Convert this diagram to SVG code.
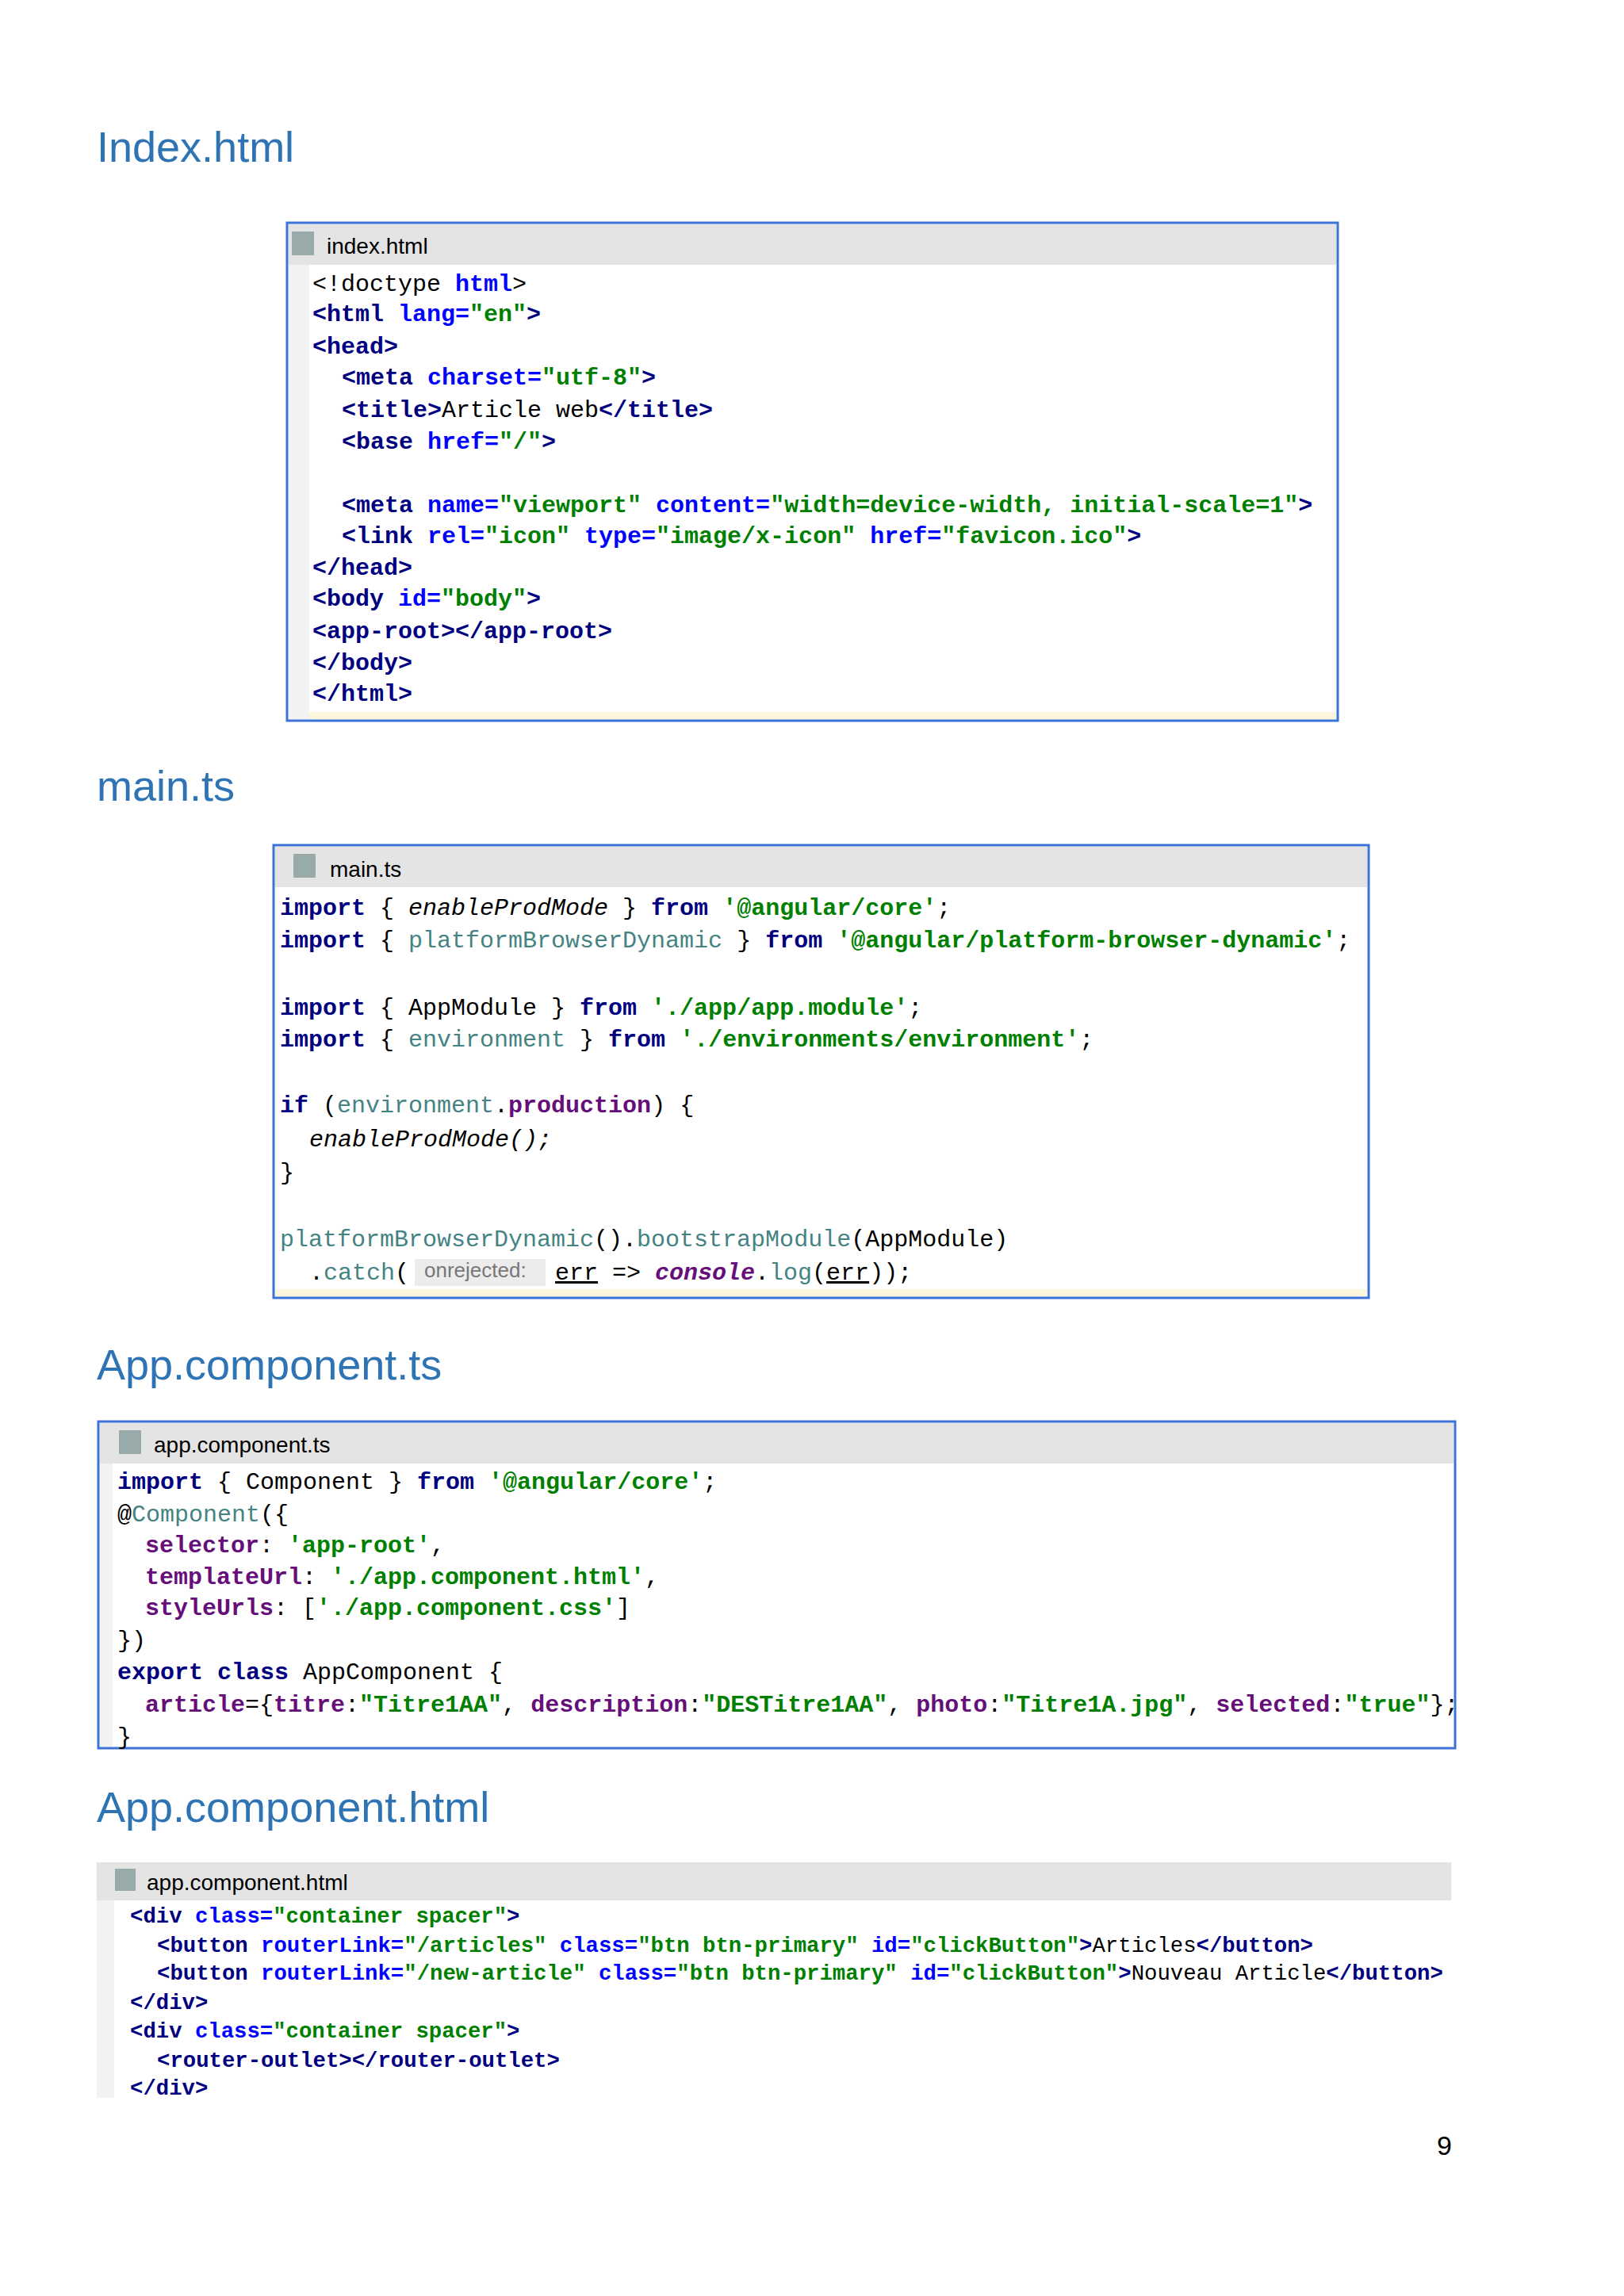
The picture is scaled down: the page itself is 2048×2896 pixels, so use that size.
<svg xmlns="http://www.w3.org/2000/svg" width="2048" height="2896" viewBox="0 0 2048 2896">
<style>
.h{font-family:"Liberation Sans",sans-serif;font-size:54px;fill:#2e74b5}
.c{font-family:"Liberation Mono",monospace;font-size:30px;fill:#000;white-space:pre}
.c2{font-family:"Liberation Mono",monospace;font-size:27.3px;fill:#000;white-space:pre}
.hd{font-family:"Liberation Sans",sans-serif;font-size:28px;fill:#000}
.t{fill:#000080;font-weight:bold}
.a{fill:#0000ff;font-weight:bold}
.s{fill:#008000;font-weight:bold}
.k{fill:#000080;font-weight:bold}
.g{fill:#458383}
.p{fill:#660e7a;font-weight:bold}
.i{font-style:italic}
.box{fill:#fff;stroke:#3b73d6;stroke-width:3}
.bar{fill:#e4e4e4}
</style>
<rect width="2048" height="2896" fill="#fff"/>
<text class="h" x="122" y="204">Index.html</text>
<text class="h" x="122" y="1010">main.ts</text>
<text class="h" x="122" y="1740">App.component.ts</text>
<text class="h" x="122" y="2298">App.component.html</text>
<g id="index">
<rect class="box" x="362" y="281" width="1325" height="628"/>
<rect class="bar" x="364" y="283" width="1321" height="51"/>
<rect x="364" y="334" width="26" height="573" fill="#f2f2f2"/>
<rect x="390" y="898" width="1295" height="9" fill="#fbf6dc"/>
<rect x="368" y="292" width="28" height="30" fill="#9aa"/>
<text class="hd" x="412" y="320">index.html</text>
<text class="c" xml:space="preserve"><tspan x="394" y="367">&lt;!doctype <tspan class="a">html</tspan>&gt;</tspan><tspan x="394" y="405"><tspan class="t">&lt;html </tspan><tspan class="a">lang=</tspan><tspan class="s">"en"</tspan><tspan class="t">&gt;</tspan></tspan><tspan x="394" y="446" class="t">&lt;head&gt;</tspan><tspan x="431" y="485"><tspan class="t">&lt;meta </tspan><tspan class="a">charset=</tspan><tspan class="s">"utf-8"</tspan><tspan class="t">&gt;</tspan></tspan><tspan x="431" y="526"><tspan class="t">&lt;title&gt;</tspan>Article web<tspan class="t">&lt;/title&gt;</tspan></tspan><tspan x="431" y="566"><tspan class="t">&lt;base </tspan><tspan class="a">href=</tspan><tspan class="s">"/"</tspan><tspan class="t">&gt;</tspan></tspan><tspan x="431" y="646"><tspan class="t">&lt;meta </tspan><tspan class="a">name=</tspan><tspan class="s">"viewport" </tspan><tspan class="a">content=</tspan><tspan class="s">"width=device-width, initial-scale=1"</tspan><tspan class="t">&gt;</tspan></tspan><tspan x="431" y="685"><tspan class="t">&lt;link </tspan><tspan class="a">rel=</tspan><tspan class="s">"icon" </tspan><tspan class="a">type=</tspan><tspan class="s">"image/x-icon" </tspan><tspan class="a">href=</tspan><tspan class="s">"favicon.ico"</tspan><tspan class="t">&gt;</tspan></tspan><tspan x="394" y="725" class="t">&lt;/head&gt;</tspan><tspan x="394" y="764"><tspan class="t">&lt;body </tspan><tspan class="a">id=</tspan><tspan class="s">"body"</tspan><tspan class="t">&gt;</tspan></tspan><tspan x="394" y="805" class="t">&lt;app-root&gt;&lt;/app-root&gt;</tspan><tspan x="394" y="845" class="t">&lt;/body&gt;</tspan><tspan x="394" y="884" class="t">&lt;/html&gt;</tspan></text>
</g>
<g id="main">
<rect class="box" x="345" y="1066" width="1381" height="571"/>
<rect class="bar" x="347" y="1068" width="1377" height="51"/>
<rect x="347" y="1626" width="1377" height="9" fill="#fbf6dc"/>
<rect x="370" y="1077" width="28" height="30" fill="#9aa"/>
<text class="hd" x="416" y="1106">main.ts</text>
<rect x="523" y="1588" width="165" height="34" fill="#ececec"/>
<text class="c" xml:space="preserve"><tspan x="353" y="1154"><tspan class="k">import</tspan> { <tspan class="i">enableProdMode</tspan> } <tspan class="k">from</tspan> <tspan class="s">'@angular/core'</tspan>;</tspan><tspan x="353" y="1195"><tspan class="k">import</tspan> { <tspan class="g">platformBrowserDynamic</tspan> } <tspan class="k">from</tspan> <tspan class="s">'@angular/platform-browser-dynamic'</tspan>;</tspan><tspan x="353" y="1280"><tspan class="k">import</tspan> { AppModule } <tspan class="k">from</tspan> <tspan class="s">'./app/app.module'</tspan>;</tspan><tspan x="353" y="1320"><tspan class="k">import</tspan> { <tspan class="g">environment</tspan> } <tspan class="k">from</tspan> <tspan class="s">'./environments/environment'</tspan>;</tspan><tspan x="353" y="1403"><tspan class="k">if</tspan> (<tspan class="g">environment</tspan>.<tspan class="p">production</tspan>) {</tspan><tspan x="390" y="1446" class="i">enableProdMode();</tspan><tspan x="353" y="1488">}</tspan><tspan x="353" y="1572"><tspan class="g">platformBrowserDynamic</tspan>().<tspan class="g">bootstrapModule</tspan>(AppModule)</tspan><tspan x="390" y="1614">.<tspan class="g">catch</tspan>(</tspan></text>
<text x="535" y="1611" font-family="Liberation Sans,sans-serif" font-size="26" fill="#777">onrejected:</text>
<text class="c" xml:space="preserve" x="700" y="1614"><tspan text-decoration="underline">err</tspan> =&gt; <tspan class="p i">console</tspan>.<tspan class="g">log</tspan>(<tspan text-decoration="underline">err</tspan>));</text>
</g>
<g id="appts">
<rect class="box" x="124" y="1793" width="1711" height="412"/>
<rect class="bar" x="126" y="1795" width="1707" height="51"/>
<rect x="126" y="1846" width="16" height="357" fill="#f2f2f2"/>
<rect x="150" y="1804" width="28" height="30" fill="#9aa"/>
<text class="hd" x="194" y="1832">app.component.ts</text>
<text class="c" xml:space="preserve"><tspan x="148" y="1878"><tspan class="k">import</tspan> { Component } <tspan class="k">from</tspan> <tspan class="s">'@angular/core'</tspan>;</tspan><tspan x="148" y="1919">@<tspan class="g">Component</tspan>({</tspan><tspan x="183" y="1958"><tspan class="p">selector</tspan>: <tspan class="s">'app-root'</tspan>,</tspan><tspan x="183" y="1998"><tspan class="p">templateUrl</tspan>: <tspan class="s">'./app.component.html'</tspan>,</tspan><tspan x="183" y="2037"><tspan class="p">styleUrls</tspan>: [<tspan class="s">'./app.component.css'</tspan>]</tspan><tspan x="148" y="2078">})</tspan><tspan x="148" y="2118"><tspan class="k">export class</tspan> AppComponent {</tspan><tspan x="183" y="2159"><tspan class="p">article</tspan>={<tspan class="p">titre</tspan>:<tspan class="s">"Titre1AA"</tspan>, <tspan class="p">description</tspan>:<tspan class="s">"DESTitre1AA"</tspan>, <tspan class="p">photo</tspan>:<tspan class="s">"Titre1A.jpg"</tspan>, <tspan class="p">selected</tspan>:<tspan class="s">"true"</tspan>};</tspan><tspan x="148" y="2200">}</tspan></text>
</g>
<g id="apphtml">
<rect class="bar" x="122" y="2349" width="1708" height="48"/>
<rect x="122" y="2397" width="22" height="249" fill="#f2f2f2"/>
<rect x="145" y="2357" width="26" height="28" fill="#9aa"/>
<text class="hd" x="185" y="2384" font-size="26">app.component.html</text>
<text class="c2" xml:space="preserve"><tspan x="164" y="2425"><tspan class="t">&lt;div </tspan><tspan class="a">class=</tspan><tspan class="s">"container spacer"</tspan><tspan class="t">&gt;</tspan></tspan><tspan x="198" y="2462"><tspan class="t">&lt;button </tspan><tspan class="a">routerLink=</tspan><tspan class="s">"/articles" </tspan><tspan class="a">class=</tspan><tspan class="s">"btn btn-primary" </tspan><tspan class="a">id=</tspan><tspan class="s">"clickButton"</tspan><tspan class="t">&gt;</tspan>Articles<tspan class="t">&lt;/button&gt;</tspan></tspan><tspan x="198" y="2497"><tspan class="t">&lt;button </tspan><tspan class="a">routerLink=</tspan><tspan class="s">"/new-article" </tspan><tspan class="a">class=</tspan><tspan class="s">"btn btn-primary" </tspan><tspan class="a">id=</tspan><tspan class="s">"clickButton"</tspan><tspan class="t">&gt;</tspan>Nouveau Article<tspan class="t">&lt;/button&gt;</tspan></tspan><tspan x="164" y="2534" class="t">&lt;/div&gt;</tspan><tspan x="164" y="2570"><tspan class="t">&lt;div </tspan><tspan class="a">class=</tspan><tspan class="s">"container spacer"</tspan><tspan class="t">&gt;</tspan></tspan><tspan x="198" y="2607" class="t">&lt;router-outlet&gt;&lt;/router-outlet&gt;</tspan><tspan x="164" y="2642" class="t">&lt;/div&gt;</tspan></text>
</g>
<text x="1812" y="2718" font-family="Liberation Sans,sans-serif" font-size="34">9</text>
</svg>
